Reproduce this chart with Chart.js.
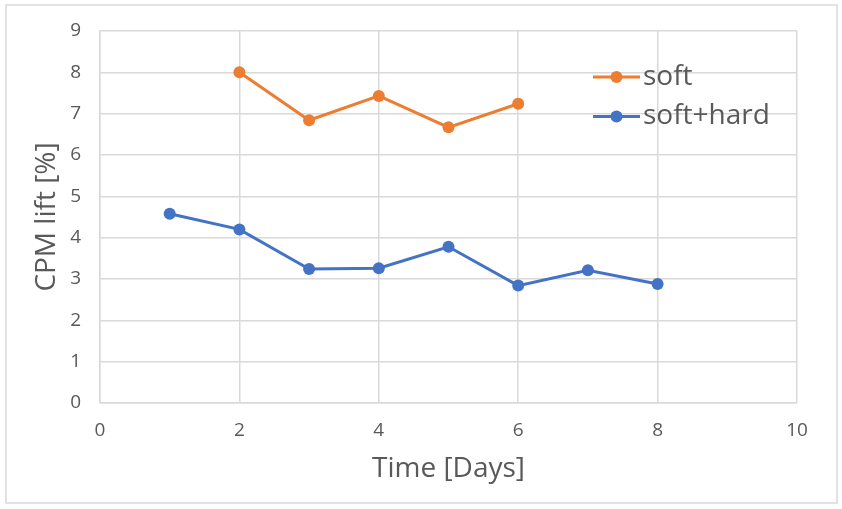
<!DOCTYPE html>
<html>
<head>
<meta charset="utf-8">
<script src="https://cdn.jsdelivr.net/npm/chart.js@4/dist/chart.umd.min.js"></script>
<style>
  body { margin: 0; background: #fff; }
  #wrap { width: 842px; height: 509px; }
</style>
</head>
<body>
<div id="wrap"><canvas id="chart" width="842" height="509"></canvas></div>
<script>
// Данные
const seriesNames = ["soft", "soft+hard"];
const softDays = [2, 3, 4, 5, 6];
const softLift = [8.0, 6.84, 7.43, 6.67, 7.24];
const hardDays = [1, 2, 3, 4, 5, 6, 7, 8];
const hardLift = [4.58, 4.2, 3.24, 3.26, 3.78, 2.84, 3.21, 2.88];
const seriesColors = ["#ED7D31", "#4472C4"];

const textColor = "#595959";
const gridColor = "#d9d9d9";
const fontFamily = "'Open Sans', 'Noto Sans', sans-serif";

function toPoints(xs, ys) {
  return xs.map((x, i) => ({ x: x, y: ys[i] }));
}

// Легенда в стиле Excel (линия с маркером) + рамка
const excelLegend = {
  id: "excelLegend",
  beforeDraw(chart) {
    const ctx = chart.ctx;
    ctx.save();
    ctx.strokeStyle = gridColor;
    ctx.lineWidth = 1.5;
    ctx.strokeRect(6, 5, 831, 498);
    ctx.restore();
  },
  afterDraw(chart) {
    const ctx = chart.ctx;
    ctx.save();
    chart.data.datasets.forEach((ds, i) => {
      const y = 77 + i * 39.5;
      ctx.strokeStyle = ds.borderColor;
      ctx.lineWidth = 3;
      ctx.beginPath();
      ctx.moveTo(593, y);
      ctx.lineTo(640, y);
      ctx.stroke();
      ctx.fillStyle = ds.backgroundColor;
      ctx.beginPath();
      ctx.arc(616.5, y, 6, 0, Math.PI * 2);
      ctx.fill();
      ctx.fillStyle = textColor;
      ctx.font = "28px " + fontFamily;
      ctx.textBaseline = "middle";
      ctx.textAlign = "left";
      ctx.fillText(ds.label, 643, y);
    });
    ctx.restore();
  }
};

const datasets = [
  { label: seriesNames[0], data: toPoints(softDays, softLift) },
  { label: seriesNames[1], data: toPoints(hardDays, hardLift) },
].map((ds, i) => ({
  ...ds,
  showLine: true,
  borderColor: seriesColors[i],
  backgroundColor: seriesColors[i],
  borderWidth: 3,
  pointRadius: 6,
  pointHoverRadius: 6,
  pointBorderWidth: 0,
}));

new Chart(document.getElementById("chart"), {
  type: "scatter",
  data: { datasets: datasets },
  options: {
    responsive: false,
    animation: false,
    layout: { padding: { left: 0, top: 31, right: 45, bottom: 0 } },
    plugins: { legend: { display: false }, tooltip: { enabled: false } },
    scales: {
      x: {
        min: 0, max: 10,
        ticks: { stepSize: 2, color: textColor, padding: 16, font: { family: fontFamily, size: 19 } },
        grid: { color: gridColor, lineWidth: 1.5, drawTicks: false },
        border: { color: gridColor, width: 1.5 },
        title: { display: true, text: "Time [Days]", color: textColor, padding: { top: 0, bottom: 23 },
                 font: { family: fontFamily, size: 28, lineHeight: 1.2 } },
        afterFit(scale) { scale.height = 106; }
      },
      y: {
        min: 0, max: 9,
        ticks: { stepSize: 1, color: textColor, padding: 19, font: { family: fontFamily, size: 19 } },
        grid: { color: gridColor, lineWidth: 1.5, drawTicks: false },
        border: { color: gridColor, width: 1.5 },
        title: { display: true, text: "CPM lift [%]", color: textColor, padding: { top: 30, bottom: 0 },
                 font: { family: fontFamily, size: 28, lineHeight: 1.2 } },
        afterFit(scale) { scale.width = 100; }
      }
    }
  },
  plugins: [excelLegend]
});
</script>
</body>
</html>
